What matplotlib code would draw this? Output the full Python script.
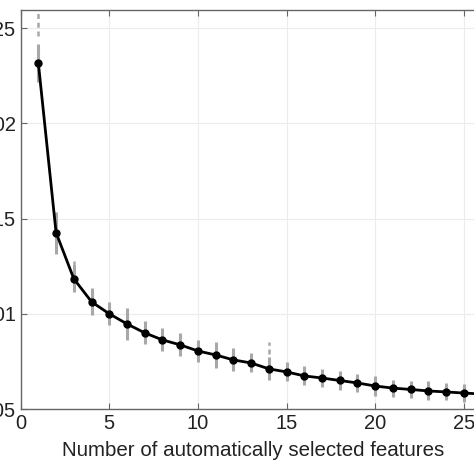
import matplotlib
matplotlib.use("Agg")
import matplotlib.pyplot as plt
import numpy as np

n_features = list(range(1, 27))
mean_err = [0.02316, 0.01426, 0.01184, 0.01063, 0.0100, 0.00947, 0.0090, 0.00863, 0.00837,
            0.00805, 0.00784, 0.00758, 0.00742, 0.00711, 0.00695, 0.00674, 0.00663, 0.0065,
            0.00637, 0.00621, 0.0061, 0.00603, 0.00595, 0.0059, 0.00584, 0.00579]
err_half = [0.0010, 0.0011, 0.0007, 0.0007, 0.0006, 0.00085, 0.0006, 0.0006, 0.0006,
            0.00058, 0.0007, 0.0006, 0.0005, 0.0006, 0.0005, 0.0005, 0.00048, 0.0005,
            0.00048, 0.0005, 0.00045, 0.00045, 0.0005, 0.00045, 0.00048, 0.0005]
outlier_idx = [1, 3, 14]
outlier_lo = [0.0246, 0.0125, 0.0079]
outlier_hi = [0.02585, 0.0128, 0.0085]

plt.rcParams['font.family'] = ['Liberation Sans', 'DejaVu Sans']
fig = plt.figure(figsize=(4.74, 4.74), dpi=100)
ax = fig.add_axes([0.0435, 0.137, 0.98, 0.842])

ax.vlines(n_features, np.array(mean_err) - np.array(err_half), np.array(mean_err) + np.array(err_half),
          color='#a8a8a8', lw=2.2, zorder=2)
ax.vlines(outlier_idx, outlier_lo, outlier_hi, color='#a8a8a8', lw=1.8, linestyles=(0, (2, 1.5)), zorder=2)
ax.plot(n_features, mean_err, '-o', color='black', lw=2, ms=5, zorder=3)

ax.set_xlim(0, 26.2)
ax.set_ylim(0.005, 0.02595)
ax.set_xticks([0, 5, 10, 15, 20, 25])
ax.set_yticks([0.005, 0.01, 0.015, 0.02, 0.025])
ax.set_yticklabels(['0.005', '0.01', '0.015', '0.02', '0.025'])
ax.grid(True, color='#ececec', lw=0.8)
ax.set_axisbelow(True)
for s in ax.spines.values():
    s.set_color('#666666')
    s.set_linewidth(1.0)
ax.tick_params(direction='in', top=True, right=True, labelsize=14.5, colors='#222222', length=4)
ax.tick_params(color='#666666')
ax.set_xlabel('Number of automatically selected features', fontsize=14.8, color='#222222', labelpad=6)
fig.savefig('out.png', dpi=100)
